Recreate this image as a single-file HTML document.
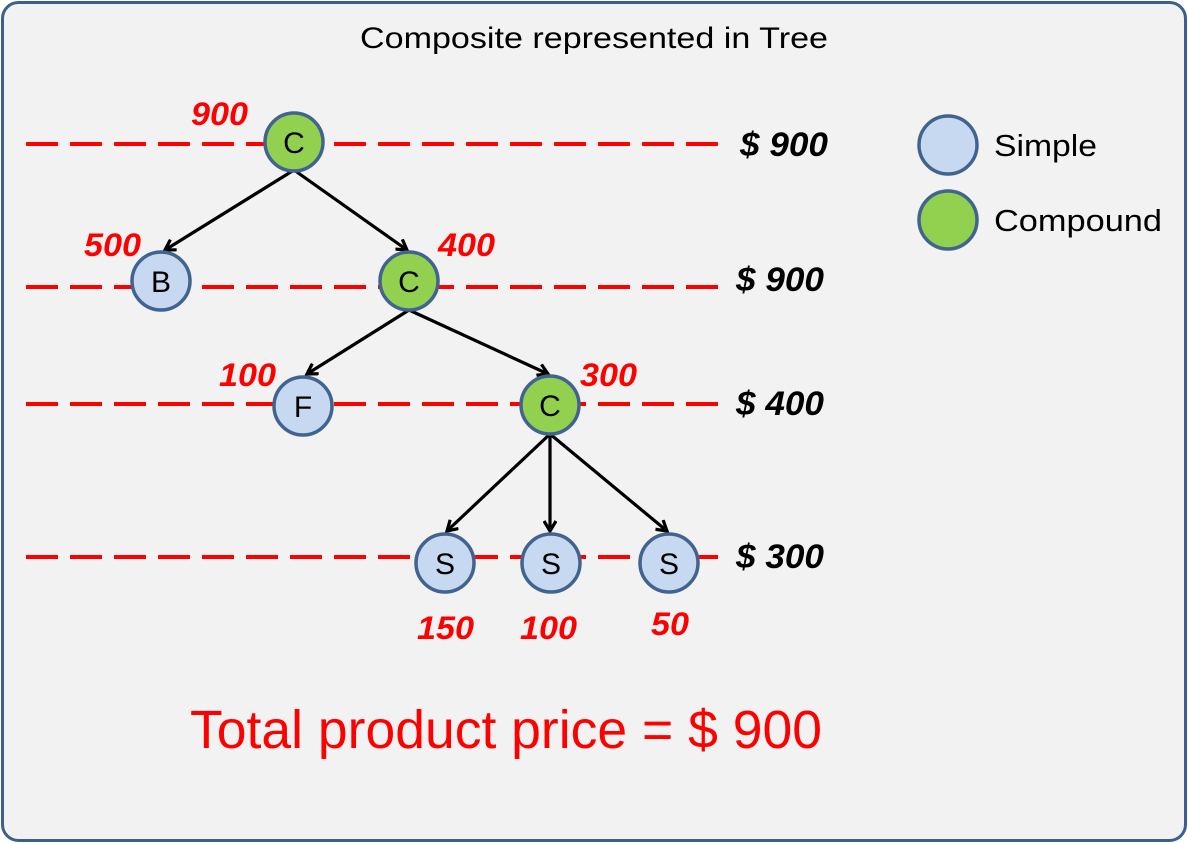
<!DOCTYPE html>
<html><head><meta charset="utf-8"><style>
html,body{margin:0;padding:0;background:#fff;}
svg{display:block;font-family:"Liberation Sans",Calibri,sans-serif;}
</style></head><body>
<svg width="1188" height="843" viewBox="0 0 1188 843" xmlns="http://www.w3.org/2000/svg">
<defs>
<marker id="a" markerWidth="14" markerHeight="14" refX="11" refY="7" orient="auto" markerUnits="userSpaceOnUse">
<path d="M1,1 L11,7 L1,13" fill="none" stroke="#000" stroke-width="3.2"/>
</marker>
</defs>
<rect x="2.5" y="2.5" width="1183" height="838" rx="16" fill="#f2f2f2" stroke="#3c5f8c" stroke-width="3"/>
<text x="360" y="48" font-size="30" textLength="468" lengthAdjust="spacingAndGlyphs" fill="#000">Composite represented in Tree</text>
<g stroke="#ff0000" stroke-width="4" stroke-dasharray="32,12">
<line x1="26" y1="144" x2="720" y2="144"/>
<line x1="26" y1="287" x2="720" y2="287"/>
<line x1="26" y1="404" x2="720" y2="404"/>
<line x1="26" y1="557" x2="720" y2="557"/>
</g>
<g stroke="#000" stroke-width="3.2" marker-end="url(#a)">
<line x1="294" y1="170" x2="165" y2="250"/>
<line x1="294" y1="170" x2="407" y2="250"/>
<line x1="409" y1="310" x2="307" y2="374"/>
<line x1="409" y1="310" x2="548" y2="374"/>
<line x1="550" y1="434" x2="447" y2="531"/>
<line x1="550" y1="434" x2="550" y2="531"/>
<line x1="550" y1="434" x2="667" y2="531"/>
</g>
<g stroke="#41638f" stroke-width="3.5">
<circle cx="294" cy="142" r="29" fill="#92d050"/>
<circle cx="161" cy="281" r="29" fill="#c6d9f0"/>
<circle cx="409" cy="281" r="29" fill="#92d050"/>
<circle cx="303" cy="406" r="29" fill="#c6d9f0"/>
<circle cx="550" cy="405" r="29" fill="#92d050"/>
<circle cx="445" cy="563" r="29" fill="#c6d9f0"/>
<circle cx="551" cy="563" r="29" fill="#c6d9f0"/>
<circle cx="669" cy="563" r="29" fill="#c6d9f0"/>
<circle cx="948" cy="145" r="29" fill="#c6d9f0"/>
<circle cx="948" cy="220" r="29" fill="#92d050"/>
</g>
<g font-size="30" text-anchor="middle" fill="#000">
<text x="294" y="153">C</text>
<text x="161" y="292">B</text>
<text x="409" y="292">C</text>
<text x="303" y="417">F</text>
<text x="550" y="416">C</text>
<text x="445" y="574">S</text>
<text x="551" y="574">S</text>
<text x="669" y="574">S</text>
</g>
<text x="994" y="156" font-size="31" textLength="103" lengthAdjust="spacingAndGlyphs" fill="#000">Simple</text>
<text x="994" y="231" font-size="31" textLength="168" lengthAdjust="spacingAndGlyphs" fill="#000">Compound</text>
<g font-size="32" font-weight="bold" font-style="italic" fill="#ff0000">
<text x="191" y="125" textLength="57" lengthAdjust="spacingAndGlyphs">900</text>
<text x="84" y="256" textLength="57" lengthAdjust="spacingAndGlyphs">500</text>
<text x="438" y="256" textLength="57" lengthAdjust="spacingAndGlyphs">400</text>
<text x="219" y="386" textLength="57" lengthAdjust="spacingAndGlyphs">100</text>
<text x="580" y="386" textLength="57" lengthAdjust="spacingAndGlyphs">300</text>
<text x="417" y="639" textLength="57" lengthAdjust="spacingAndGlyphs">150</text>
<text x="520" y="639" textLength="57" lengthAdjust="spacingAndGlyphs">100</text>
<text x="651" y="635" textLength="38" lengthAdjust="spacingAndGlyphs">50</text>
</g>
<g font-size="34" font-weight="bold" font-style="italic" fill="#000">
<text x="740" y="156" textLength="88" lengthAdjust="spacingAndGlyphs">$ 900</text>
<text x="736" y="291" textLength="88" lengthAdjust="spacingAndGlyphs">$ 900</text>
<text x="736" y="415" textLength="88" lengthAdjust="spacingAndGlyphs">$ 400</text>
<text x="736" y="568" textLength="88" lengthAdjust="spacingAndGlyphs">$ 300</text>
</g>
<text x="190" y="748" font-size="54" textLength="632" lengthAdjust="spacingAndGlyphs" fill="#ff0000">Total product price = $ 900</text>
</svg>
</body></html>
